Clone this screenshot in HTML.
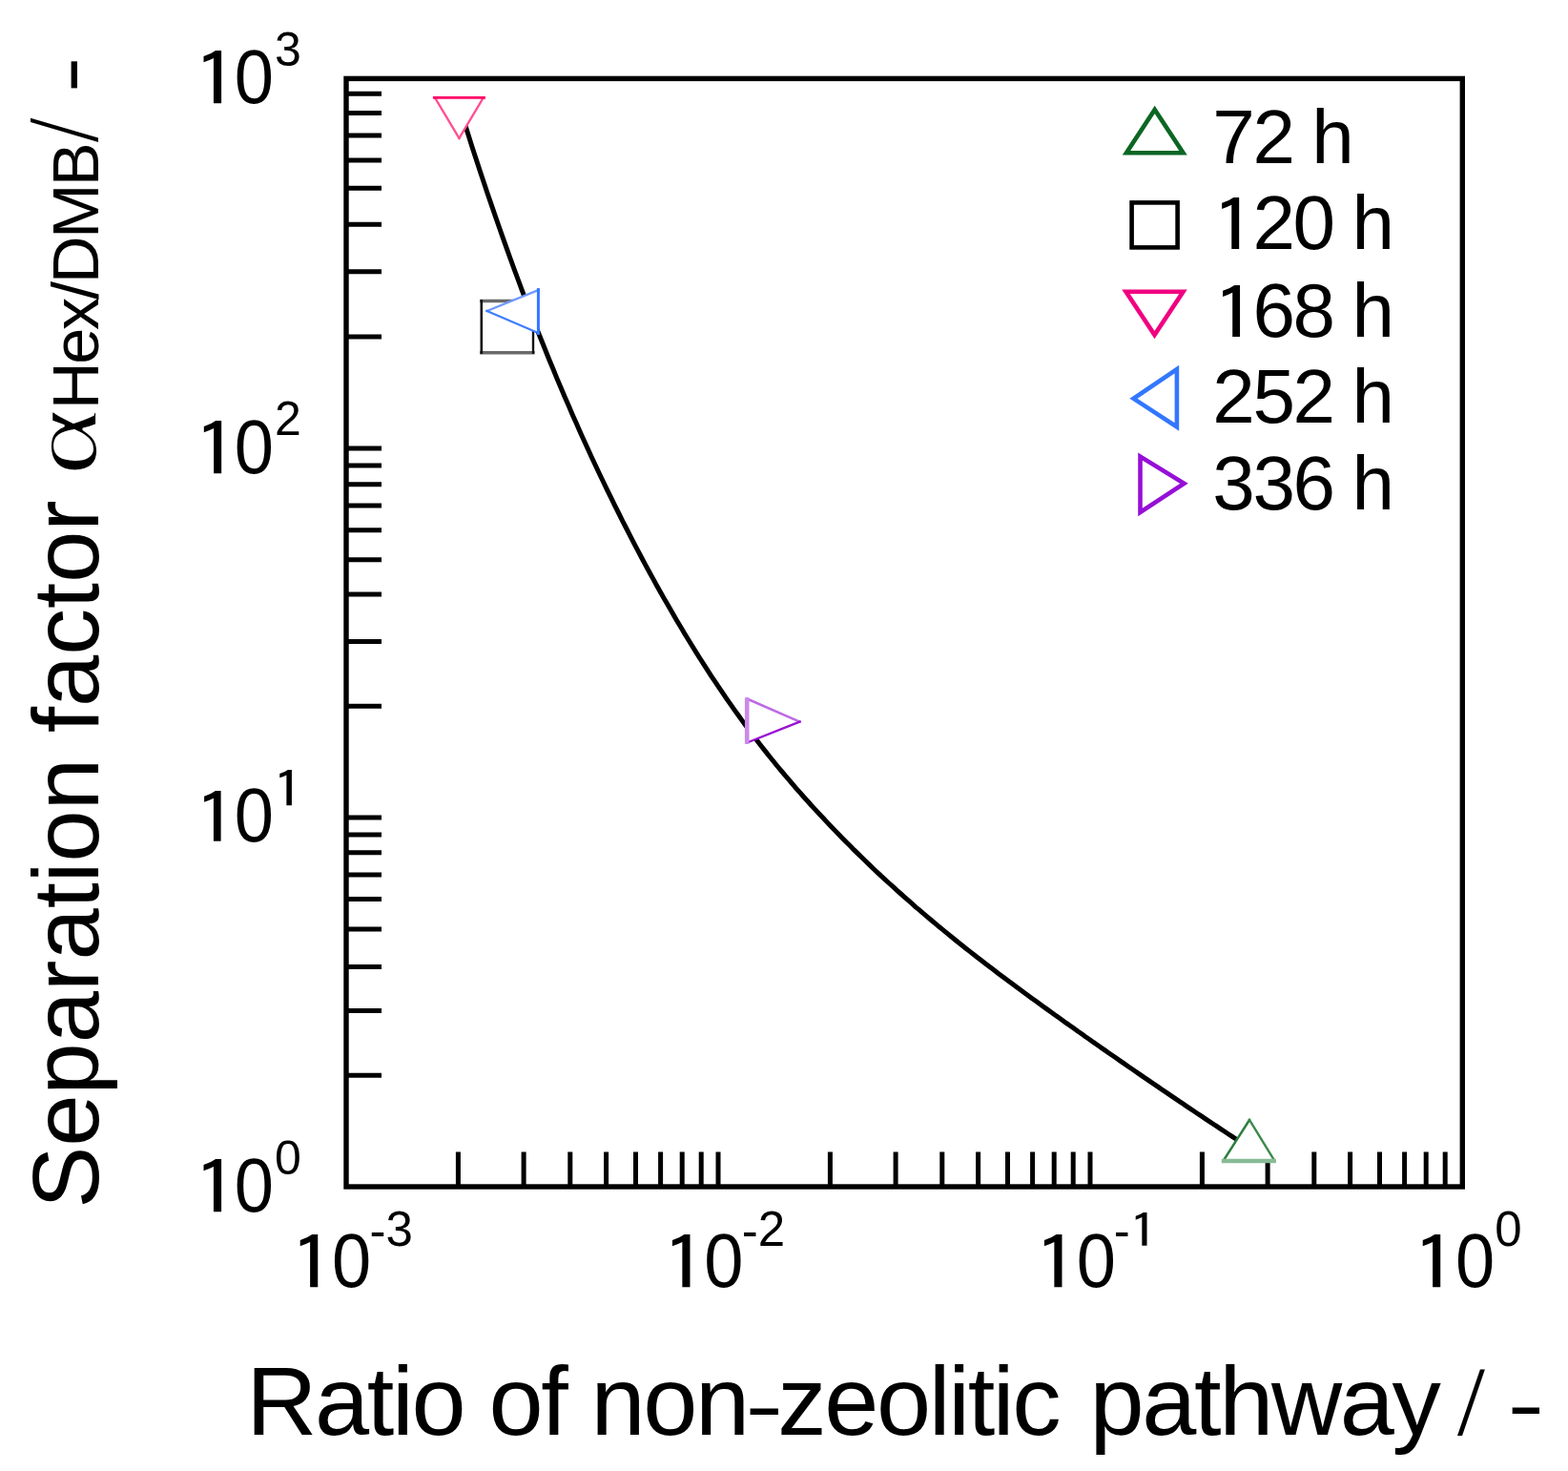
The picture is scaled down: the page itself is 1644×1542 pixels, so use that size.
<!DOCTYPE html>
<html><head><meta charset="utf-8"><title>Separation factor vs ratio of non-zeolitic pathway</title>
<style>html,body{margin:0;padding:0;background:#fff;overflow:hidden}svg{display:block}</style>
</head><body>
<svg width="1644" height="1542" viewBox="0 0 1644 1542"><rect width="1644" height="1542" fill="#fff"/><path d="M363.0,1127.3H400 M363.0,1059.5H400 M363.0,1013.4H400 M363.0,973.9H400 M363.0,942.5H400 M363.0,916.9H400 M363.0,893.8H400 M363.0,875.0H400 M363.0,856.9H400 M363.0,740.2H400 M363.0,672.4H400 M363.0,623.0H400 M363.0,586.8H400 M363.0,555.8H400 M363.0,530.0H400 M363.0,507.8H400 M363.0,487.9H400 M363.0,470.0H400 M363.0,353.0H400 M363.0,284.8H400 M363.0,235.3H400 M363.0,197.2H400 M363.0,168.0H400 M363.0,142.0H400 M363.0,118.6H400 M363.0,98.2H400 M480.4,1244.0V1207.5 M549.1,1244.0V1207.5 M597.8,1244.0V1207.5 M635.6,1244.0V1207.5 M666.5,1244.0V1207.5 M692.6,1244.0V1207.5 M715.2,1244.0V1207.5 M735.2,1244.0V1207.5 M753.0,1244.0V1207.5 M870.4,1244.0V1207.5 M939.1,1244.0V1207.5 M987.8,1244.0V1207.5 M1025.6,1244.0V1207.5 M1056.5,1244.0V1207.5 M1082.6,1244.0V1207.5 M1105.2,1244.0V1207.5 M1125.2,1244.0V1207.5 M1143.0,1244.0V1207.5 M1260.4,1244.0V1207.5 M1329.1,1244.0V1207.5 M1377.8,1244.0V1207.5 M1415.6,1244.0V1207.5 M1446.5,1244.0V1207.5 M1472.6,1244.0V1207.5 M1495.2,1244.0V1207.5 M1515.2,1244.0V1207.5" stroke="#000" stroke-width="5.0" fill="none"/><rect x="363.0" y="82.4" width="1170.3" height="1161.6" fill="none" stroke="#000" stroke-width="5.4"/><path d="M486.2,126.3 L487.8,131.2 L489.3,136.1 L490.9,141.1 L494.9,153.7 L499.0,166.2 L503.0,178.5 L507.1,190.7 L511.1,202.7 L515.2,214.6 L519.2,226.3 L523.3,238.0 L527.3,249.4 L531.4,260.8 L535.4,272.0 L539.4,283.0 L543.5,294.0 L547.5,304.8 L551.6,315.5 L555.6,326.0 L559.7,336.4 L563.7,346.8 L567.8,357.0 L571.8,367.0 L575.8,377.0 L579.9,386.8 L583.9,396.6 L588.0,406.2 L592.0,415.7 L596.1,425.1 L600.1,434.4 L604.2,443.6 L608.2,452.7 L612.3,461.7 L616.3,470.6 L620.3,479.3 L624.4,488.0 L628.4,496.5 L632.5,505.0 L636.5,513.4 L640.6,521.7 L644.6,529.9 L648.7,538.0 L652.7,546.1 L656.8,554.0 L660.8,561.9 L664.8,569.7 L668.9,577.4 L672.9,585.0 L677.0,592.6 L681.0,600.0 L685.1,607.4 L689.1,614.7 L693.2,621.9 L697.2,629.1 L701.3,636.1 L705.3,643.1 L709.3,650.0 L713.4,656.8 L717.4,663.6 L721.5,670.2 L725.5,676.8 L729.6,683.3 L733.6,689.7 L737.7,696.1 L741.7,702.4 L745.7,708.6 L749.8,714.7 L753.8,720.7 L757.9,726.7 L761.9,732.6 L766.0,738.4 L770.0,744.1 L774.1,749.8 L778.1,755.4 L782.2,760.9 L786.2,766.3 L790.2,771.7 L794.3,777.0 L798.3,782.2 L802.4,787.4 L806.4,792.5 L810.5,797.5 L814.5,802.5 L818.6,807.3 L822.6,812.2 L826.7,816.9 L830.7,821.7 L834.7,826.3 L838.8,830.9 L842.8,835.5 L846.9,840.0 L850.9,844.5 L855.0,848.9 L859.0,853.3 L863.1,857.6 L867.1,861.9 L871.2,866.2 L875.2,870.4 L879.2,874.5 L883.3,878.7 L887.3,882.8 L891.4,886.8 L895.4,890.9 L899.5,894.9 L903.5,898.8 L907.6,902.7 L911.6,906.6 L915.6,910.5 L919.7,914.3 L923.7,918.1 L927.8,921.8 L931.8,925.5 L935.9,929.2 L939.9,932.9 L944.0,936.5 L948.0,940.1 L952.1,943.7 L956.1,947.2 L960.1,950.8 L964.2,954.2 L968.2,957.7 L972.3,961.1 L976.3,964.5 L980.4,967.9 L984.4,971.3 L988.5,974.6 L992.5,977.9 L996.6,981.2 L1000.6,984.5 L1004.6,987.8 L1008.7,991.0 L1012.7,994.2 L1016.8,997.4 L1020.8,1000.5 L1024.9,1003.7 L1028.9,1006.8 L1033.0,1009.9 L1037.0,1013.0 L1041.1,1016.1 L1045.1,1019.2 L1049.1,1022.2 L1053.2,1025.3 L1057.2,1028.3 L1061.3,1031.3 L1065.3,1034.3 L1069.4,1037.3 L1073.4,1040.3 L1077.5,1043.2 L1081.5,1046.2 L1085.5,1049.1 L1089.6,1052.1 L1093.6,1055.0 L1097.7,1057.9 L1101.7,1060.8 L1105.8,1063.7 L1109.8,1066.6 L1113.9,1069.5 L1117.9,1072.4 L1122.0,1075.2 L1126.0,1078.1 L1130.0,1081.0 L1134.1,1083.8 L1138.1,1086.7 L1142.2,1089.5 L1146.2,1092.4 L1150.3,1095.2 L1154.3,1098.1 L1158.4,1100.9 L1162.4,1103.7 L1166.5,1106.5 L1170.5,1109.3 L1174.5,1112.1 L1178.6,1114.9 L1182.6,1117.7 L1186.7,1120.5 L1190.7,1123.3 L1194.8,1126.1 L1198.8,1128.9 L1202.9,1131.6 L1206.9,1134.4 L1211.0,1137.1 L1215.0,1139.9 L1219.0,1142.7 L1223.1,1145.4 L1227.1,1148.1 L1231.2,1150.9 L1235.2,1153.6 L1239.3,1156.3 L1243.3,1159.1 L1247.4,1161.8 L1251.4,1164.5 L1255.4,1167.2 L1259.5,1169.9 L1263.5,1172.6 L1267.6,1175.3 L1271.6,1178.0 L1275.7,1180.7 L1279.7,1183.3 L1283.8,1186.0 L1287.8,1188.7 L1291.9,1191.4 L1295.9,1194.0 L1298.2,1195.6 L1300.6,1197.1 L1302.9,1198.6 L1305.3,1200.2 L1307.6,1201.7" fill="none" stroke="#000" stroke-width="5.0" stroke-linejoin="round"/><path d="M504.8,315.5 L559.0,315.5 L559.0,369.7 L504.8,369.7 Z" fill="#fff" stroke="none"/><line x1="504.8" y1="315.5" x2="559.0" y2="315.5" stroke="#6a6a6a" stroke-width="3.4" stroke-linecap="square"/><line x1="504.8" y1="369.7" x2="559.0" y2="369.7" stroke="#6a6a6a" stroke-width="3.4" stroke-linecap="square"/><line x1="504.8" y1="315.5" x2="504.8" y2="369.7" stroke="#111" stroke-width="2.6" stroke-linecap="square"/><line x1="559.0" y1="315.5" x2="559.0" y2="369.7" stroke="#111" stroke-width="2.4" stroke-linecap="square"/><path d="M456.0,102.4 L506.8,102.4 L481.4,144.8 Z" fill="#fff" stroke="none"/><line x1="481.4" y1="144.8" x2="456.0" y2="102.4" stroke="#ff4f92" stroke-width="2.3" stroke-linecap="square"/><line x1="481.4" y1="144.8" x2="506.8" y2="102.4" stroke="#ff4f92" stroke-width="2.3" stroke-linecap="square"/><line x1="455.2" y1="102.4" x2="507.6" y2="102.4" stroke="#ff0066" stroke-width="2.6" stroke-linecap="square"/><path d="M564.4,304.0 L564.4,349.0 L510.5,326.0 Z" fill="#fff" stroke="none"/><line x1="510.5" y1="326.0" x2="564.4" y2="304.0" stroke="#6f9aff" stroke-width="2.3" stroke-linecap="square"/><line x1="510.5" y1="326.0" x2="564.4" y2="349.0" stroke="#3d7dff" stroke-width="2.3" stroke-linecap="square"/><line x1="564.4" y1="303.6" x2="564.4" y2="349.6" stroke="#3377ff" stroke-width="3.0" stroke-linecap="square"/><path d="M783.2,732.5 L783.2,778.5 L838.5,756.6 Z" fill="#fff" stroke="none"/><line x1="783.2" y1="732.5" x2="838.5" y2="756.6" stroke="#bd6ae3" stroke-width="2.5" stroke-linecap="square"/><line x1="783.2" y1="778.5" x2="838.5" y2="756.6" stroke="#9a12d2" stroke-width="2.4" stroke-linecap="square"/><line x1="783.2" y1="731.3" x2="783.2" y2="779.7" stroke="#c98be8" stroke-width="4.6" stroke-linecap="butt"/><path d="M1282.5,1217.0 L1336.5,1217.0 L1310.0,1174.0 Z" fill="#fff" stroke="none"/><line x1="1282.5" y1="1217.0" x2="1310.0" y2="1174.0" stroke="#2c7d3e" stroke-width="2.4" stroke-linecap="square"/><line x1="1336.5" y1="1217.0" x2="1310.0" y2="1174.0" stroke="#3a8a4c" stroke-width="2.4" stroke-linecap="square"/><line x1="1280.8" y1="1217.0" x2="1337.8" y2="1217.0" stroke="#88bb95" stroke-width="4.6" stroke-linecap="butt"/><path d="M1181.0,160.2 L1240.5,160.2 L1210.7,115.0 Z" fill="#fff" stroke="#0b6623" stroke-width="4.6"/><rect x="1186.6" y="212.4" width="48.0" height="47.0" fill="#fff" stroke="#000" stroke-width="4.6"/><path d="M1180.5,305.8 L1240.5,305.8 L1210.5,351.0 Z" fill="#fff" stroke="#f00080" stroke-width="4.6"/><path d="M1233.9,387.0 L1233.9,447.5 L1188.5,417.8 Z" fill="#fff" stroke="#3377ff" stroke-width="4.6"/><path d="M1195.5,478.5 L1195.5,537.0 L1241.5,506.8 Z" fill="#fff" stroke="#960fd7" stroke-width="4.6"/><g fill="#000"><text transform="translate(201.85,112.34) scale(1.25,1)" style="font-family:'IPAGothic',sans-serif;font-size:79.55px;">1</text><text transform="translate(245.70,108.30) scale(0.932,1)" style="font-family:'Liberation Sans',Arial,sans-serif;font-size:79.5px;">0</text><text x="288.0" y="68.8" style="font-family:'Liberation Sans',Arial,sans-serif;font-size:50px;">3</text><text transform="translate(202.15,500.08) scale(1.25,1)" style="font-family:'IPAGothic',sans-serif;font-size:78.41px;">1</text><text transform="translate(245.70,496.10) scale(0.932,1)" style="font-family:'Liberation Sans',Arial,sans-serif;font-size:79.5px;">0</text><text x="288.0" y="455.6" style="font-family:'Liberation Sans',Arial,sans-serif;font-size:50px;">2</text><text transform="translate(203.06,886.01) scale(1.25,1)" style="font-family:'IPAGothic',sans-serif;font-size:74.98px;">1</text><text transform="translate(245.70,882.20) scale(0.932,1)" style="font-family:'Liberation Sans',Arial,sans-serif;font-size:79.5px;">0</text><text transform="translate(285.15,846.95) scale(1.3,1)" style="font-family:'IPAGothic',sans-serif;font-size:52.13px;">1</text><text transform="translate(201.85,1274.34) scale(1.25,1)" style="font-family:'IPAGothic',sans-serif;font-size:79.55px;">1</text><text transform="translate(245.70,1270.30) scale(0.932,1)" style="font-family:'Liberation Sans',Arial,sans-serif;font-size:79.5px;">0</text><text x="288.0" y="1230.7" style="font-family:'Liberation Sans',Arial,sans-serif;font-size:50px;">0</text><text transform="translate(302.98,1353.13) scale(1.25,1)" style="font-family:'IPAGothic',sans-serif;font-size:79.26px;">1</text><text transform="translate(348.10,1349.10) scale(0.932,1)" style="font-family:'Liberation Sans',Arial,sans-serif;font-size:79.5px;">0</text><text x="387.4" y="1305.7" style="font-family:'Liberation Sans',Arial,sans-serif;font-size:51px"><tspan dy="2.3">-</tspan><tspan dy="-2.3">3</tspan></text><text transform="translate(693.18,1353.13) scale(1.25,1)" style="font-family:'IPAGothic',sans-serif;font-size:79.26px;">1</text><text transform="translate(738.20,1349.10) scale(0.932,1)" style="font-family:'Liberation Sans',Arial,sans-serif;font-size:79.5px;">0</text><text x="777.7" y="1305.7" style="font-family:'Liberation Sans',Arial,sans-serif;font-size:51px"><tspan dy="2.3">-</tspan><tspan dy="-2.3">2</tspan></text><text transform="translate(1083.18,1353.13) scale(1.25,1)" style="font-family:'IPAGothic',sans-serif;font-size:79.26px;">1</text><text transform="translate(1128.70,1349.10) scale(0.932,1)" style="font-family:'Liberation Sans',Arial,sans-serif;font-size:79.5px;">0</text><text x="1167.7" y="1308.0" style="font-family:'Liberation Sans',Arial,sans-serif;font-size:51px;">-</text><text transform="translate(1183.14,1308.47) scale(1.3,1)" style="font-family:'IPAGothic',sans-serif;font-size:48.56px;">1</text><text transform="translate(1480.08,1353.13) scale(1.25,1)" style="font-family:'IPAGothic',sans-serif;font-size:79.26px;">1</text><text transform="translate(1526.00,1349.10) scale(0.932,1)" style="font-family:'Liberation Sans',Arial,sans-serif;font-size:79.5px;">0</text><text x="1567.3" y="1305.7" style="font-family:'Liberation Sans',Arial,sans-serif;font-size:51px;">0</text><text x="1271.3" y="170.6" style="font-family:'Liberation Sans',Arial,sans-serif;font-size:80px;letter-spacing:-2.4px">72 h</text><text transform="translate(1269.69,265.12) scale(1.25,1)" style="font-family:'IPAGothic',sans-serif;font-size:77.12px;">1</text><text x="1313.4" y="261.2" style="font-family:'Liberation Sans',Arial,sans-serif;font-size:80px;letter-spacing:-2.4px">20 h</text><text transform="translate(1270.77,356.50) scale(1.25,1)" style="font-family:'IPAGothic',sans-serif;font-size:76.84px;">1</text><text x="1313.4" y="352.6" style="font-family:'Liberation Sans',Arial,sans-serif;font-size:80px;letter-spacing:-2.4px">68 h</text><text x="1271.3" y="443.1" style="font-family:'Liberation Sans',Arial,sans-serif;font-size:80px;letter-spacing:-2.4px">252 h</text><text x="1271.3" y="533.6" style="font-family:'Liberation Sans',Arial,sans-serif;font-size:80px;letter-spacing:-2.4px">336 h</text><text x="258.3" y="1504.1" style="font-family:'Liberation Sans',Arial,sans-serif;font-size:102.7px;letter-spacing:-2.35px">Ratio of non</text><text transform="translate(781.30,1501.70) scale(1.17,0.81)" style="font-family:'Liberation Sans',Arial,sans-serif;font-size:102.7px;">-</text><text x="815.2" y="1504.1" style="font-family:'Liberation Sans',Arial,sans-serif;font-size:102.7px;letter-spacing:-2.35px">zeolitic</text><text x="1142.5" y="1504.1" style="font-family:'Liberation Sans',Arial,sans-serif;font-size:102.7px;letter-spacing:-2.35px">pathway</text><text x="1528.0" y="1503.5" style="font-family:'Liberation Serif',serif;font-size:104px;">/</text><text transform="translate(1580.60,1501.30) scale(1.13,0.81)" style="font-family:'Liberation Sans',Arial,sans-serif;font-size:102.7px;">-</text><g transform="translate(102.5,1266.7) rotate(-90)"><text x="0" y="0" style="font-family:'Liberation Sans',Arial,sans-serif;font-size:97.5px">Separation factor </text><text transform="translate(767.9,-1.6) scale(1.33,1)" style="font-family:'Liberation Serif',serif;font-size:101.2px;stroke:#fff;stroke-width:1.8px">α</text><text x="837.6" y="0" style="font-family:'Liberation Sans',Arial,sans-serif;font-size:68.5px;letter-spacing:-2.2px">Hex/DMB</text><text transform="translate(1117.8,-0.35) scale(0.87,1)" style="font-family:'Liberation Serif',serif;font-size:104.8px">/</text><text transform="translate(1169.1,-2.6) scale(1.18,0.83)" style="font-family:'Liberation Sans',Arial,sans-serif;font-size:97.5px">-</text></g></g></svg>
</body></html>
